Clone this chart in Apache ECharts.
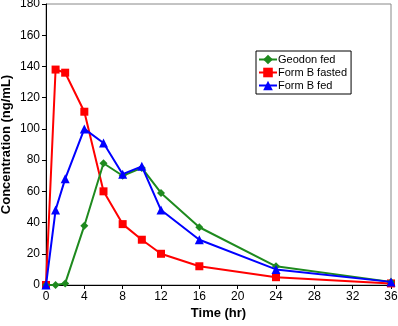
<!DOCTYPE html>
<html>
<head>
<meta charset="utf-8">
<script src="https://cdn.jsdelivr.net/npm/echarts@6/dist/echarts.min.js"></script>
<style>
  html, body { margin: 0; padding: 0; background: #fff; }
  #chart { width: 398px; height: 326px; }
</style>
</head>
<body>
<div id="chart"></div>
<script>
const hours = [0, 1, 2, 4, 6, 8, 10, 12, 16, 24, 36];
const geodonFed = [0, 0, 1, 38, 78, 70, 75, 59, 37, 12, 2];
const formBFasted = [0, 138, 136, 111, 60, 39, 29, 20, 12, 5, 1];
const formBFed = [0, 48, 68, 100, 91, 71, 76, 48, 29, 10, 2];

const pairs = (vals) => hours.map((h, i) => [h, vals[i]]);

const chart = echarts.init(document.getElementById('chart'));
const font = 'Liberation Sans, Arial, sans-serif';

chart.setOption({
  animation: false,
  textStyle: { fontFamily: font },
  grid: {
    left: 46, right: 7, top: 4, bottom: 41,
    outerBoundsMode: 'none',
    containLabel: false,
    show: true, borderColor: '#888', borderWidth: 1,
  },
  legend: {
    orient: 'vertical',
    left: 256, top: 51,
    padding: [3, 4, 3, 2],
    itemGap: 2,
    itemWidth: 18, itemHeight: 12,
    borderColor: '#000', borderWidth: 1,
    backgroundColor: '#fff',
    textStyle: { fontSize: 11, color: '#000', padding: [0, 0, 0, -4] },
    data: ['Geodon fed', 'Form B fasted', 'Form B fed'],
  },
  xAxis: {
    type: 'value',
    min: 0, max: 36, interval: 4,
    name: 'Time (hr)',
    nameLocation: 'middle',
    nameGap: 22,
    nameMoveOverlap: false,
    nameTextStyle: { fontWeight: 'bold', fontSize: 13, color: '#000' },
    axisLine: { lineStyle: { color: '#000' } },
    axisTick: { lineStyle: { color: '#000' }, length: 4 },
    axisLabel: { color: '#000', fontSize: 12, margin: 6 },
    splitLine: { show: false },
  },
  yAxis: {
    type: 'value',
    min: 0, max: 180, interval: 20,
    name: 'Concentration (ng/mL)',
    nameLocation: 'middle',
    nameGap: 33,
    nameMoveOverlap: false,
    nameTextStyle: { fontWeight: 'bold', fontSize: 13, color: '#000' },
    axisLine: { show: true, lineStyle: { color: '#000' } },
    axisTick: { show: true, lineStyle: { color: '#000' }, length: 4 },
    axisLabel: { color: '#000', fontSize: 12, margin: 6 },
    splitLine: { show: false },
  },
  series: [
    {
      name: 'Geodon fed', type: 'line',
      data: pairs(geodonFed),
      color: '#1e8a1e',
      symbol: 'diamond', symbolSize: 8,
      lineStyle: { width: 2 },
      z: 3,
    },
    {
      name: 'Form B fasted', type: 'line',
      data: pairs(formBFasted),
      color: '#ff0000',
      symbol: 'rect', symbolSize: 8,
      lineStyle: { width: 2 },
      z: 2,
    },
    {
      name: 'Form B fed', type: 'line',
      data: pairs(formBFed),
      color: '#0000ff',
      symbol: 'triangle', symbolSize: 9,
      lineStyle: { width: 2 },
      z: 4,
    },
  ],
});
</script>
</body>
</html>
